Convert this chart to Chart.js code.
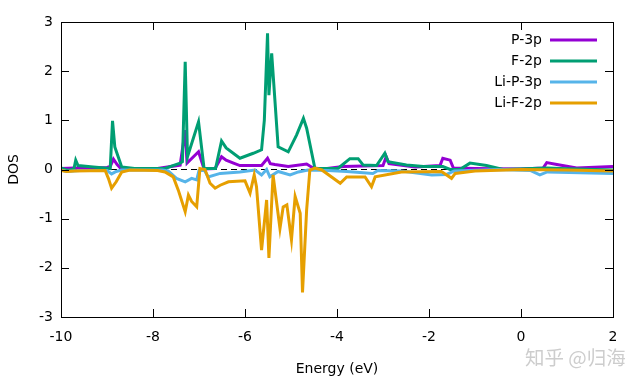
<!DOCTYPE html>
<html lang="en">
<head>
    <meta charset="UTF-8">
    <title>DOS</title>
    <script src="https://cdn.jsdelivr.net/npm/chart.js"></script>
    <style>
        body {
            margin: 0;
            padding: 0;
            background: #fff;
        }
        #wrap {
            position: relative;
            width: 640px;
            height: 384px;
        }
        #mark {
            position: absolute;
            left: 525px;
            top: 342px;
            font-family: "Noto Sans CJK SC", sans-serif;
            font-size: 19.5px;
            color: #cdcdcd;
            white-space: nowrap;
        }
    </style>
</head>
<body>
<div id="wrap">
    <canvas id="dosChart" width="640" height="384"></canvas>
    <span id="mark">知乎 @归海</span>
</div>
<script>
    // values
    const xTicks = [-10, -8, -6, -4, -2, 0, 2];
    const yTicks = [-3, -2, -1, 0, 1, 2, 3];

    const pEnergy = [-10, -9.7, -9.0, -8.93, -8.86, -8.78, -8.7, -7.9, -7.41, -7.30, -7.26, -7.01, -6.89, -6.65, -6.51, -6.41, -6.25, -6.11, -5.64, -5.51, -5.45, -5.35, -5.06, -4.66, -4.52, -4.3, -3.87, -3.43, -3.0, -2.93, -2.87, -2.30, -1.76, -1.70, -1.54, -1.47, -1.0, 0.0, 0.48, 0.56, 0.78, 1.21, 2.0];
    const pDos = [0.02, 0.03, 0.04, 0.06, 0.21, 0.1, 0.02, 0.02, 0.09, 0.80, 0.13, 0.36, 0.01, 0.02, 0.26, 0.19, 0.13, 0.08, 0.08, 0.23, 0.12, 0.10, 0.06, 0.11, 0.03, 0.01, 0.06, 0.07, 0.08, 0.26, 0.12, 0.05, 0.08, 0.23, 0.19, 0.03, 0.02, 0.01, 0.03, 0.14, 0.10, 0.03, 0.06];

    const fEnergy = [-10, -9.85, -9.72, -9.68, -9.63, -9.3, -8.93, -8.88, -8.83, -8.68, -8.4, -7.74, -7.41, -7.36, -7.30, -7.25, -7.01, -6.89, -6.64, -6.51, -6.41, -6.11, -5.82, -5.64, -5.58, -5.51, -5.48, -5.42, -5.28, -5.06, -4.88, -4.73, -4.66, -4.48, -3.98, -3.72, -3.54, -3.43, -3.14, -2.96, -2.89, -2.49, -2.12, -1.7, -1.54, -1.33, -1.11, -0.75, -0.39, 0.56, 0.85, 2.0];
    const fDos = [0.03, -0.02, 0.01, 0.19, 0.08, 0.05, 0.02, 0.99, 0.46, 0.05, 0.02, 0.02, 0.13, 0.16, 2.19, 0.26, 0.97, 0.02, 0.02, 0.58, 0.44, 0.23, 0.33, 0.40, 1.0, 2.77, 1.51, 2.36, 0.46, 0.36, 0.70, 1.04, 0.84, 0.02, 0.02, 0.22, 0.22, 0.09, 0.08, 0.33, 0.16, 0.09, 0.06, 0.06, 0.0, 0.0, 0.13, 0.08, 0.0, 0.03, 0.02, -0.01];

    const lpEnergy = [-10, -9.88, -9.6, -9.0, -8.9, -8.8, -8.68, -7.8, -7.67, -7.49, -7.30, -7.16, -7.05, -7.0, -6.88, -6.8, -6.54, -6.11, -5.78, -5.64, -5.53, -5.46, -5.28, -5.02, -4.84, -4.63, -4.2, -3.79, -3.22, -3.11, -2.6, -1.94, -1.62, -1.45, -0.5, 0.2, 0.41, 0.57, 2.0];
    const lpDos = [-0.01, -0.04, -0.02, -0.02, -0.09, -0.04, -0.01, -0.01, -0.03, -0.18, -0.25, -0.18, -0.21, -0.02, -0.02, -0.15, -0.08, -0.05, -0.01, -0.11, 0.0, -0.15, -0.04, -0.11, -0.05, -0.01, -0.02, -0.04, -0.08, -0.02, -0.03, -0.11, -0.10, -0.03, 0.0, -0.02, -0.11, -0.05, -0.08];

    const lfEnergy = [-10, -9.88, -9.7, -9.04, -8.97, -8.9, -8.8, -8.68, -8.5, -7.9, -7.74, -7.56, -7.45, -7.30, -7.23, -7.16, -7.05, -6.98, -6.87, -6.76, -6.65, -6.54, -6.36, -6.0, -5.89, -5.80, -5.75, -5.64, -5.53, -5.48, -5.39, -5.24, -5.17, -5.09, -4.99, -4.91, -4.80, -4.75, -4.66, -4.59, -4.48, -4.33, -3.93, -3.79, -3.39, -3.25, -3.17, -2.60, -1.73, -1.51, -1.43, -1.0, 0.0, 1.0, 2.0];
    const lfDos = [-0.02, -0.04, -0.03, -0.02, -0.18, -0.38, -0.25, -0.05, -0.01, -0.02, -0.05, -0.15, -0.42, -0.86, -0.52, -0.65, -0.76, 0.02, 0.0, -0.28, -0.38, -0.32, -0.25, -0.23, -0.48, -0.11, -0.35, -1.64, -0.62, -1.80, -0.11, -1.20, -0.76, -0.72, -1.43, -0.55, -0.89, -2.5, -0.82, -0.01, 0.03, -0.01, -0.28, -0.15, -0.15, -0.35, -0.15, -0.05, -0.04, -0.18, -0.08, -0.03, 0.0, -0.01, -0.03];

    const zeroEnergy = [-10, 2];
    const zeroDos = [0, 0];

    function pts(xs, ys) {
        return xs.map((x, i) => ({ x: x, y: ys[i] }));
    }

    const fontName = '"DejaVu Sans", sans-serif';

    // gnuplot style: closed box, ticks pointing inward on all four sides, key top right
    const frame = {
        id: 'frame',
        afterDraw(chart) {
            const ctx = chart.ctx;
            const a = chart.chartArea;
            const xs = chart.scales.x;
            const ys = chart.scales.y;
            ctx.save();
            ctx.strokeStyle = '#000';
            ctx.lineWidth = 1;
            ctx.beginPath();
            xTicks.forEach(v => {
                const px = Math.round(xs.getPixelForValue(v)) + 0.5;
                ctx.moveTo(px, a.bottom); ctx.lineTo(px, a.bottom - 8);
                ctx.moveTo(px, a.top); ctx.lineTo(px, a.top + 8);
            });
            yTicks.forEach(v => {
                const py = Math.round(ys.getPixelForValue(v)) + 0.5;
                ctx.moveTo(a.left, py); ctx.lineTo(a.left + 8, py);
                ctx.moveTo(a.right, py); ctx.lineTo(a.right - 8, py);
            });
            ctx.stroke();
            ctx.strokeRect(Math.round(a.left) + 0.5, Math.round(a.top) + 0.5,
                Math.round(a.right - a.left), Math.round(a.bottom - a.top));

            // key
            ctx.font = '14px ' + fontName;
            ctx.textAlign = 'right';
            ctx.textBaseline = 'middle';
            ctx.fillStyle = '#000';
            ctx.lineWidth = 3;
            const rows = chart.data.datasets.filter(d => d.label);
            rows.forEach((d, i) => {
                const y = 40 + i * 21;
                ctx.fillText(d.label, 542, y);
                ctx.strokeStyle = d.borderColor;
                ctx.beginPath();
                ctx.moveTo(550, y);
                ctx.lineTo(597, y);
                ctx.stroke();
            });
            ctx.restore();
        }
    };

    const ctx = document.getElementById('dosChart').getContext('2d');
    new Chart(ctx, {
        type: 'line',
        data: {
            datasets: [
                { label: 'P-3p', data: pts(pEnergy, pDos), borderColor: '#9400d3', order: 4 },
                { label: 'F-2p', data: pts(fEnergy, fDos), borderColor: '#009e73', order: 3 },
                { label: 'Li-P-3p', data: pts(lpEnergy, lpDos), borderColor: '#56b4e9', order: 2 },
                { label: 'Li-F-2p', data: pts(lfEnergy, lfDos), borderColor: '#e69f00', order: 1 },
                { label: '', data: pts(zeroEnergy, zeroDos), borderColor: '#000', borderWidth: 1, borderDash: [6, 4], order: 5 }
            ]
        },
        options: {
            responsive: false,
            animation: false,
            layout: { padding: { left: 0, right: 27, top: 22, bottom: 0 } },
            elements: {
                line: { borderWidth: 3, tension: 0, fill: false },
                point: { radius: 0 }
            },
            plugins: {
                legend: { display: false },
                tooltip: { enabled: false }
            },
            scales: {
                x: {
                    type: 'linear',
                    min: -10,
                    max: 2,
                    afterBuildTicks: s => { s.ticks = xTicks.map(v => ({ value: v })); },
                    afterFit: s => { s.height = 67; },
                    grid: { display: false, drawTicks: false },
                    border: { display: false },
                    ticks: { color: '#000', font: { family: fontName, size: 14 }, padding: 12 },
                    title: {
                        display: true,
                        text: 'Energy (eV)',
                        color: '#000',
                        font: { family: fontName, size: 14 },
                        padding: { top: 0, bottom: 6 }
                    }
                },
                y: {
                    type: 'linear',
                    min: -3,
                    max: 3,
                    afterBuildTicks: s => { s.ticks = yTicks.map(v => ({ value: v })); },
                    afterFit: s => { s.width = 61; },
                    grid: { display: false, drawTicks: false },
                    border: { display: false },
                    ticks: { color: '#000', font: { family: fontName, size: 14 }, padding: 8 },
                    title: {
                        display: true,
                        text: 'DOS',
                        color: '#000',
                        font: { family: fontName, size: 14 },
                        padding: { top: 6, bottom: 0 }
                    }
                }
            }
        },
        plugins: [frame]
    });
</script>
</body>
</html>
